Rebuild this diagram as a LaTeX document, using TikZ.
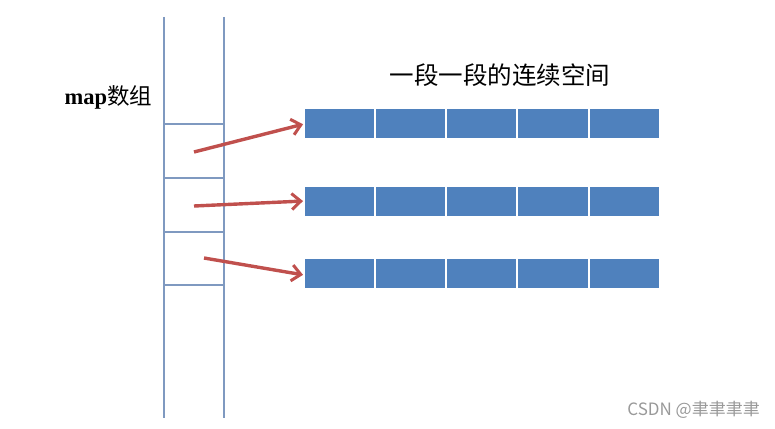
\documentclass[tikz,border=0pt]{standalone}
\usepackage{fontspec}
\newfontfamily\cjk{Noto Sans CJK SC}
\newfontfamily\latinserif{Liberation Serif}
\usetikzlibrary{arrows.meta}
\definecolor{gridline}{HTML}{7F99C0}
\definecolor{blockblue}{HTML}{4F81BD}
\definecolor{arrowred}{HTML}{C0504D}
\tikzset{
  gline/.style={draw=gridline, line width=1.3pt},
  cell/.style={draw=white, line width=1.2pt, fill=blockblue},
  ptr/.style={draw=arrowred, line width=3.4pt, -{Straight Barb[length=9pt,width=16pt,line width=3pt]}, shorten >=1pt},
}
\begin{document}
\begin{tikzpicture}[x=1pt,y=-1pt]
\useasboundingbox (0,0) rectangle (775,428);
% map array
\coordinate (vl1) at (164,17); \coordinate (vl2) at (164,418);
\coordinate (vr1) at (224,17); \coordinate (vr2) at (224,418);
\draw[gline] (vl1) -- (vl2);
\draw[gline] (vr1) -- (vr2);
\foreach \y in {124,178,232,285} {
  \draw[gline] (164,\y) -- (224,\y);
}
\node[inner sep=0pt] (maplabel) at (108.5,97) {\fontsize{22.5}{26}\selectfont{\latinserif\bfseries map}{\cjk 数组}};
\node[inner sep=0pt] (title) at (500,75) {\cjk\fontsize{24.5}{28}\selectfont 一段一段的连续空间};
% blocks
\foreach \r/\ya/\yb in {1/108/139, 2/186/217, 3/258/289} {
  \foreach \c/\xa/\xb in {1/304/375, 2/375/446, 3/446/517, 4/517/589, 5/589/660} {
    \path[cell] (\xa,\ya) rectangle (\xb,\yb);
  }
}
\coordinate (s1) at (194,152);
\coordinate (s2) at (194,206);
\coordinate (s3) at (204,258);
\coordinate (e1) at (304,124);
\coordinate (e2) at (304,201);
\coordinate (e3) at (304,275);
\draw[ptr] (s1) -- (e1);
\draw[ptr] (s2) -- (e2);
\draw[ptr] (s3) -- (e3);
\node[text=gray!80, anchor=east, inner sep=0pt] (wm) at (760,410) {\cjk\fontsize{17}{20}\selectfont CSDN @聿聿聿聿};
\end{tikzpicture}
\end{document}
